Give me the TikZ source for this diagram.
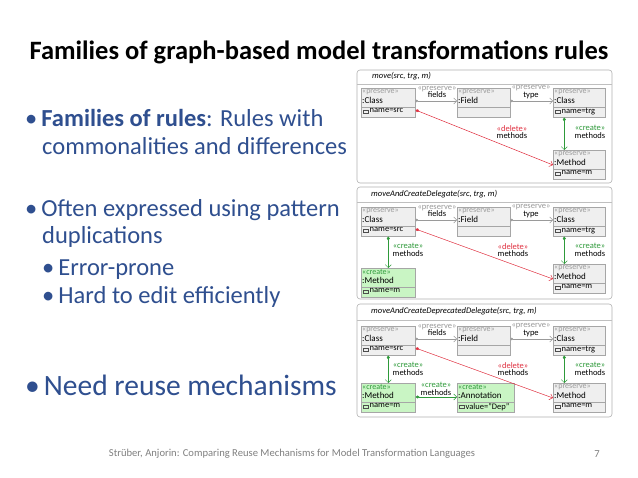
\documentclass[tikz,border=0pt]{standalone}
\usepackage{fontspec}
\setmainfont{Carlito}
\usetikzlibrary{arrows.meta}
\definecolor{txtblue}{HTML}{2F4F8F}
\definecolor{pgray}{HTML}{9A9A9A}
\definecolor{bfill}{HTML}{EFEFEF}
\definecolor{gfill}{HTML}{C9F5C4}
\definecolor{cgreen}{HTML}{2E9A3A}
\definecolor{dred}{HTML}{E03040}
\newcommand\ubox[9]{%
  \node[draw=gray!70, fill=#5, minimum width=#4, minimum height=29, anchor=north west, inner sep=0, line width=0.5pt] (#1) at (#2,#3) {};
  \draw[gray!70, line width=0.5pt] (#2,#3+19) -- (#2+#4,#3+19);
  \node[lbl, text=#9] at (#2+1,#3+1) {«#6»};
  \node[lbl, font=\fontsize{9}{9}\selectfont] at (#2+1,#3+9) {:#7};
  \if\relax\detokenize{#8}\relax\else
  \draw[black!70, line width=0.4pt] (#2+2.5,#3+22.5) rectangle (#2+7,#3+25);
  \node[lbl, font=\fontsize{8.5}{9}\selectfont] at (#2+8.5,#3+20) {#8};
  \fi
}
\tikzset{
  lbl/.style={anchor=north west, inner sep=0, font=\fontsize{8}{8}\selectfont},
  clab/.style={inner sep=0, font=\fontsize{8.5}{7.5}\selectfont, align=center},
  panel/.style={draw=gray!60, rounded corners=3pt, fill=white, line width=0.6pt},
  pres/.style={draw=pgray, line width=0.5pt, {Circle[length=2.5pt]}-{Straight Barb[length=3pt]}},
  del/.style={draw=dred, line width=0.5pt, {Diamond[length=4pt,width=3pt]}-{Straight Barb[length=3pt]}},
  crt/.style={draw=cgreen, line width=0.5pt, {Diamond[length=4pt,width=3pt]}-{Straight Barb[length=3pt]}},
  bul/.style={anchor=base west, inner sep=0, text=txtblue, font=\fontsize{24.5}{28}\selectfont},
}
\begin{document}
\begin{tikzpicture}[x=1pt,y=-1pt]
\useasboundingbox[fill=white] (0,0) rectangle (638,478);
\node[font=\bfseries\fontsize{26.5}{30}\selectfont, inner sep=0] (title) at (319,52) {Families of graph-based model transformations rules};
% bullets
\node[bul] (b1) at (25,127) {•\hspace{4pt}\textbf{Families of rules}: Rules with};
\node[bul] (b1b) at (42,155) {commonalities and differences};
\node[bul] (b2) at (25,217) {•\hspace{4pt}Often expressed using pattern};
\node[bul] (b2b) at (42,244) {duplications};
\node[bul] (b3) at (42,276) {•\hspace{4pt}Error-prone};
\node[bul] (b4) at (42,304) {•\hspace{4pt}Hard to edit efficiently};
\node[bul, font=\fontsize{29.5}{32}\selectfont] (b5) at (25,396) {•\hspace{4pt}Need reuse mechanisms};
\node[inner sep=0, text=gray, font=\fontsize{10.6}{12}\selectfont] (foot) at (292,454) {Strüber, Anjorin: Comparing Reuse Mechanisms for Model Transformation Languages};
\node[inner sep=0, text=gray, font=\fontsize{10.6}{12}\selectfont] (pg) at (597,454) {7};
% ---------- panel 1
\draw[panel] (357,70) rectangle (612,183);
\node[lbl, font=\itshape\fontsize{8.5}{9}\selectfont] (t1) at (372,72) {move(src, trg, m)};
\draw[gray!50] (357,84) -- (612,84);
\ubox{a1}{361}{88}{54}{bfill}{preserve}{Class}{name=src}{pgray}
\ubox{a2}{457}{88}{53}{bfill}{preserve}{Field}{}{pgray}
\ubox{a3}{553}{88}{52}{bfill}{preserve}{Class}{name=trg}{pgray}
\ubox{a4}{553}{150}{52}{bfill}{preserve}{Method}{name=m}{pgray}
\draw[pres] ([yshift=-13pt]a1.north east) -- ([yshift=-13pt]a2.north west);
\draw[pres] ([yshift=-13pt]a2.north east) -- ([yshift=-13pt]a3.north west);
\node[clab] at (437,92) {\textcolor{pgray}{«preserve»}\\fields};
\node[clab] at (531,92) {\textcolor{pgray}{«preserve»}\\type};
\draw[del] ([yshift=-22pt]a1.north east) -- ([yshift=-15pt]a4.north west);
\draw[crt] ([xshift=-15pt]a3.south) -- ([xshift=-15pt]a4.north);
\node[clab] at (512,132) {\textcolor{dred}{«delete»}\\methods};
\node[clab] at (590,132) {\textcolor{cgreen}{«create»}\\methods};
% ---------- panel 2
\draw[panel] (357,187) rectangle (612,299);
\node[lbl, font=\itshape\fontsize{8.5}{9}\selectfont] (t2) at (371,190) {moveAndCreateDelegate(src, trg, m)};
\draw[gray!50] (357,202) -- (612,202);
\ubox{b1}{361}{207}{54}{bfill}{preserve}{Class}{name=src}{pgray}
\ubox{b2}{457}{207}{53}{bfill}{preserve}{Field}{}{pgray}
\ubox{b3}{553}{207}{52}{bfill}{preserve}{Class}{name=trg}{pgray}
\ubox{b4}{553}{264}{52}{bfill}{preserve}{Method}{name=m}{pgray}
\ubox{b5}{361}{268}{54}{gfill}{create}{Method}{name=m}{cgreen}
\draw[pres] ([yshift=-13pt]b1.north east) -- ([yshift=-13pt]b2.north west);
\draw[pres] ([yshift=-13pt]b2.north east) -- ([yshift=-13pt]b3.north west);
\node[clab] at (437,211) {\textcolor{pgray}{«preserve»}\\fields};
\node[clab] at (531,211) {\textcolor{pgray}{«preserve»}\\type};
\draw[del] ([yshift=-22pt]b1.north east) -- ([yshift=-15pt]b4.north west);
\draw[crt] ([xshift=-15pt]b3.south) -- ([xshift=-15pt]b4.north);
\draw[crt] (b1.south) -- (b5.north);
\node[clab] at (513,250) {\textcolor{dred}{«delete»}\\methods};
\node[clab] at (590,250) {\textcolor{cgreen}{«create»}\\methods};
\node[clab] at (408,250) {\textcolor{cgreen}{«create»}\\methods};
% ---------- panel 3
\draw[panel] (357,304) rectangle (612,417);
\node[lbl, font=\itshape\fontsize{8.5}{9}\selectfont] (t3) at (371,307) {moveAndCreateDeprecatedDelegate(src, trg, m)};
\draw[gray!50] (357,320) -- (612,320);
\ubox{c1}{361}{326}{54}{bfill}{preserve}{Class}{name=src}{pgray}
\ubox{c2}{457}{326}{53}{bfill}{preserve}{Field}{}{pgray}
\ubox{c3}{553}{326}{52}{bfill}{preserve}{Class}{name=trg}{pgray}
\ubox{c4}{553}{383}{52}{bfill}{preserve}{Method}{name=m}{pgray}
\ubox{c5}{361}{383}{54}{gfill}{create}{Method}{name=m}{cgreen}
\ubox{c6}{457}{383}{57}{gfill}{create}{Annotation}{value="Dep"}{cgreen}
\draw[pres] ([yshift=-13pt]c1.north east) -- ([yshift=-13pt]c2.north west);
\draw[pres] ([yshift=-13pt]c2.north east) -- ([yshift=-13pt]c3.north west);
\node[clab] at (437,330) {\textcolor{pgray}{«preserve»}\\fields};
\node[clab] at (531,330) {\textcolor{pgray}{«preserve»}\\type};
\draw[del] ([yshift=-22pt]c1.north east) -- ([yshift=-15pt]c4.north west);
\draw[crt] ([xshift=-15pt]c3.south) -- ([xshift=-15pt]c4.north);
\draw[crt] (c1.south) -- (c5.north);
\draw[crt] ([yshift=-14pt]c5.north east) -- ([yshift=-14pt]c6.north west);
\node[clab] at (513,369) {\textcolor{dred}{«delete»}\\methods};
\node[clab] at (590,369) {\textcolor{cgreen}{«create»}\\methods};
\node[clab] at (408,369) {\textcolor{cgreen}{«create»}\\methods};
\node[clab] at (436,389) {\textcolor{cgreen}{«create»}\\methods};
\end{tikzpicture}
\end{document}
